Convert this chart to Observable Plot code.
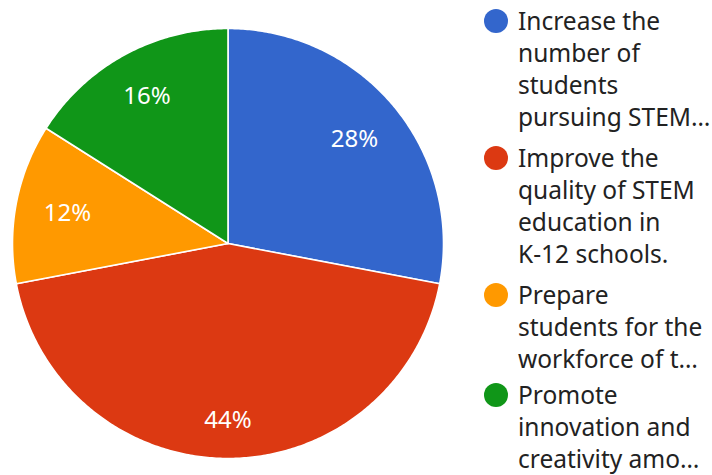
<!DOCTYPE html>
<html>
<head>
<meta charset="utf-8">
<script src="https://cdn.jsdelivr.net/npm/d3@7"></script>
<script src="https://cdn.jsdelivr.net/npm/@observablehq/plot@0.6"></script>
<style>
  html, body { margin: 0; padding: 0; background: #fff; }
  #wrap { display: flex; flex-direction: row; width: 712px; height: 475px; overflow: hidden; }
  #legend { width: 240px; padding-top: 5px; font-family: "Noto Sans", sans-serif; font-size: 24.5px; line-height: 32px; color: #222; }
  .item { display: flex; flex-direction: row; align-items: flex-start; margin-bottom: 9px; }
  .item.tight { margin-bottom: 4px; }
  .item:last-child { margin-bottom: 0; }
  .sw { flex: none; width: 24px; height: 24px; border-radius: 50%; margin: 4px 10px 0 12px; }
  .txt { white-space: nowrap; }
</style>
</head>
<body>
<div id="wrap"><div id="chart"></div><div id="legend"></div></div>
<script>
const categories = [
  "Increase the number of students pursuing STEM…",
  "Improve the quality of STEM education in K-12 schools.",
  "Prepare students for the workforce of t…",
  "Promote innovation and creativity amo…"
];
const legendLines = [
  ["Increase the", "number of", "students", "pursuing STEM…"],
  ["Improve the", "quality of STEM", "education in", "K-12 schools."],
  ["Prepare", "students for the", "workforce of t…"],
  ["Promote", "innovation and", "creativity amo…"]
];
const shares = [28, 44, 12, 16];
const colors = ["#3366cc", "#dc3912", "#ff9900", "#109618"];

const pie = d3.pie().sort(null).value(d => d.value)(
  categories.map((c, i) => ({cat: c, value: shares[i]}))
);

// slice outlines in unit-circle data coordinates
const outline = [];
for (const a of pie) {
  const n = Math.max(2, Math.ceil((a.endAngle - a.startAngle) / 0.01));
  outline.push({cat: a.data.cat, x: 0, y: 0});
  for (let k = 0; k <= n; k++) {
    const t = a.startAngle + (a.endAngle - a.startAngle) * k / n;
    outline.push({cat: a.data.cat, x: Math.sin(t), y: Math.cos(t)});
  }
  outline.push({cat: a.data.cat, x: 0, y: 0});
}

// labels: text box's far corner sits at 0.875 of the radius
const hw = 0.11, hh = 0.044, R = 0.875;
const labels = pie.map(a => {
  const m = (a.startAngle + a.endAngle) / 2;
  const s = Math.sin(m), c = Math.cos(m);
  const b = Math.abs(s) * hw + Math.abs(c) * hh;
  const k = -b + Math.sqrt(b * b - (hw * hw + hh * hh - R * R));
  return {x: s * k, y: c * k, text: Math.round(a.data.value) + "%"};
});

const chart = Plot.plot({
  width: 472,
  height: 475,
  marginLeft: 12,
  marginRight: 29,
  marginTop: 28,
  marginBottom: 17,
  x: {domain: [-1, 1], axis: null},
  y: {domain: [-1, 1], axis: null},
  color: {domain: categories, range: colors},
  style: {background: "white", fontFamily: "Noto Sans, sans-serif", overflow: "visible"},
  marks: [
    Plot.line(outline, {x: "x", y: "y", z: "cat", fill: "cat", stroke: "white", strokeWidth: 1.6, strokeLinejoin: "round", curve: "linear"}),
    Plot.text(labels, {x: "x", y: "y", text: "text", fill: "white", fontSize: 24, fontFamily: "Noto Sans, sans-serif"})
  ]
});
document.getElementById("chart").appendChild(chart);

const legend = document.getElementById("legend");
legendLines.forEach((lines, i) => {
  const item = document.createElement("div");
  item.className = "item" + (i === 2 ? " tight" : "");
  const sw = document.createElement("div");
  sw.className = "sw";
  sw.style.background = colors[i];
  const txt = document.createElement("div");
  txt.className = "txt";
  txt.innerHTML = lines.join("<br>");
  item.appendChild(sw);
  item.appendChild(txt);
  legend.appendChild(item);
});
</script>
</body>
</html>
